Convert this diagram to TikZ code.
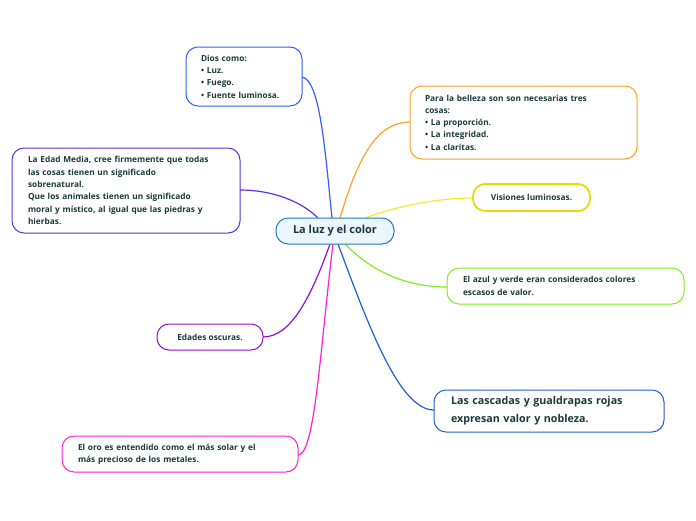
\documentclass[tikz,border=0pt]{standalone}
\usepackage{fontspec}
\setmainfont{Open Sans}
\definecolor{txt}{HTML}{1A3A3A}
\begin{document}
\begin{tikzpicture}[x=1pt,y=-1pt,
 box/.style={draw,rounded corners=12pt,line width=1pt,fill=white,text=txt,font=\fontsize{8.3}{12.3}\selectfont\bfseries,align=left,inner sep=0pt},
 lk/.style={line width=1.2pt}]
\useasboundingbox (0,0) rectangle (696,520);
% connectors
\draw[lk,color={rgb,255:red,48;green,96;blue,255}] (332,218) .. controls (325,150) and (320,80) .. (302,77);
\draw[lk,color={rgb,255:red,255;green,160;blue,40}] (340,218) .. controls (360,150) and (380,122) .. (410,122);
\draw[lk,color={rgb,255:red,240;green,240;blue,40}] (365,218) .. controls (400,205) and (440,198) .. (473,198);
\draw[lk,color={rgb,255:red,128;green,238;blue,32}] (345,244) .. controls (380,280) and (420,287) .. (447,287);
\draw[lk,color={rgb,255:red,32;green,96;blue,208}] (338,244) .. controls (370,330) and (400,410) .. (434,410);
\draw[lk,color={rgb,255:red,96;green,48;blue,224}] (318,218) .. controls (300,200) and (270,190) .. (240,190);
\draw[lk,color={rgb,255:red,144;green,16;blue,208}] (330,244) .. controls (310,300) and (290,337) .. (263,337);
\draw[lk,color={rgb,255:red,255;green,32;blue,208}] (333,244) .. controls (320,350) and (315,455) .. (298,455);
% nodes
\node[box,draw={rgb,255:red,40;green,120;blue,190},fill={rgb,255:red,235;green,245;blue,252},minimum width=118pt,minimum height=26pt,align=center,font=\fontsize{11}{13}\selectfont\bfseries] (center) at (335,231) {La luz y el color};
\node[box,draw={rgb,255:red,48;green,96;blue,255},minimum width=116pt,minimum height=59pt,text width=86pt] (dios) at (244,76.5) {Dios como:\\• Luz.\\• Fuego.\\• Fuente luminosa.};
\node[box,draw={rgb,255:red,255;green,160;blue,40},minimum width=227pt,minimum height=73pt,text width=197pt] (bel) at (523.5,122.5) {Para la belleza son son necesarias tres\\cosas:\\• La proporción.\\• La integridad.\\• La claritas.};
\node[box,draw={rgb,255:red,230;green,220;blue,0},line width=1.8pt,minimum width=117pt,minimum height=27pt,align=center] (vis) at (531.5,197.5) {Visiones luminosas.};
\node[box,draw={rgb,255:red,128;green,238;blue,32},minimum width=237pt,minimum height=36pt,text width=205pt] (azul) at (565.5,286) {El azul y verde eran considerados colores\\escasos de valor.};
\node[box,draw={rgb,255:red,32;green,96;blue,208},minimum width=230pt,minimum height=42pt,text width=196pt,font=\fontsize{10.7}{18}\selectfont\bfseries] (casc) at (549,411) {Las cascadas y gualdrapas rojas\\expresan valor y nobleza.};
\node[box,draw={rgb,255:red,96;green,48;blue,224},minimum width=228pt,minimum height=85pt,text width=196pt] (edad) at (126,190.5) {La Edad Media, cree firmemente que todas\\las cosas tienen un significado\\sobrenatural.\\Que los animales tienen un significado\\moral y místico, al igual que las piedras y\\hierbas.};
\node[box,draw={rgb,255:red,144;green,16;blue,208},minimum width=106pt,minimum height=26pt,align=center] (osc) at (210,337) {Edades oscuras.};
\node[box,draw={rgb,255:red,255;green,32;blue,208},minimum width=236pt,minimum height=36pt,text width=204pt] (oro) at (180,454) {El oro es entendido como el más solar y el\\más precioso de los metales.};
\end{tikzpicture}
\end{document}
